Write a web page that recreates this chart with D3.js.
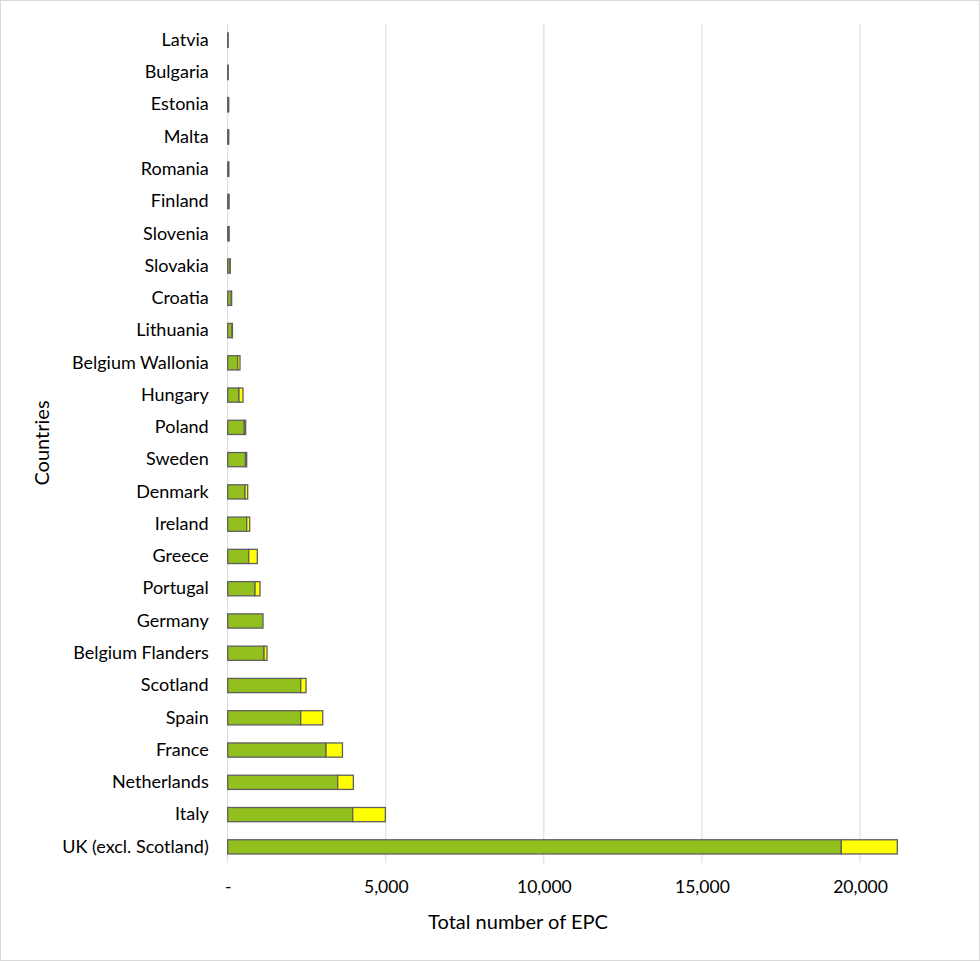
<!DOCTYPE html>
<html><head><meta charset="utf-8">
<script src="https://cdn.jsdelivr.net/npm/d3@7"></script>
<style>
html,body{margin:0;padding:0;background:#fff;}
svg text{font-family:Lato,"Open Sans",sans-serif;fill:#000;}
</style></head>
<body>
<svg id="chart" width="980" height="961"></svg>
<script>
const countries = ["Latvia","Bulgaria","Estonia","Malta","Romania","Finland","Slovenia","Slovakia","Croatia","Lithuania","Belgium Wallonia","Hungary","Poland","Sweden","Denmark","Ireland","Greece","Portugal","Germany","Belgium Flanders","Scotland","Spain","France","Netherlands","Italy","UK (excl. Scotland)"];
const greenValues = [8,10,25,25,28,35,38,70,115,140,316,357,525,563,547,601,664,864,1117,1149,2310,2310,3110,3480,3955,19408];
const yellowValues = [2,2,5,5,5,5,5,8,10,10,73,127,44,38,85,95,273,158,0,95,168,696,520,495,1032,1772];
const xTicks = [0,5000,10000,15000,20000];
const xTickLabels = ["-","5,000","10,000","15,000","20,000"];

const svg = d3.select("#chart");
const W = 980, H = 961;
svg.append("rect").attr("x",0.5).attr("y",0.5).attr("width",W-1).attr("height",H-1)
  .attr("fill","#fff").attr("stroke","#d9d9d9");

const x = d3.scaleLinear().domain([0,20000]).range([227.7,860]);
const y = d3.scaleBand().domain(countries).range([24,863]).paddingInner(0.56).paddingOuter(0.28);

// gridlines
svg.append("g").selectAll("line").data(xTicks).join("line")
  .attr("x1",d=>x(d)).attr("x2",d=>x(d)).attr("y1",24).attr("y2",863)
  .attr("stroke","#d9d9d9").attr("stroke-width",1);

const data = countries.map((c,i)=>({c, g:greenValues[i], yv:yellowValues[i]}));
const bars = svg.append("g");
bars.selectAll("rect.g").data(data).join("rect").attr("class","g")
  .attr("x",x(0)).attr("y",d=>y(d.c)).attr("width",d=>x(d.g)-x(0)).attr("height",y.bandwidth())
  .attr("fill","#92c01f").attr("stroke","#5f5f5f").attr("stroke-width",1.3);
bars.selectAll("rect.y").data(data.filter(d=>d.yv>0)).join("rect").attr("class","y")
  .attr("x",d=>x(d.g)).attr("y",d=>y(d.c)).attr("width",d=>x(d.g+d.yv)-x(d.g)).attr("height",y.bandwidth())
  .attr("fill","#ffff00").attr("stroke","#5f5f5f").attr("stroke-width",1.3);

// y axis labels
const yAxis = d3.axisLeft(y).tickSize(0).tickPadding(19);
const ya = svg.append("g").attr("transform",`translate(${x(0)},0)`).call(yAxis);
ya.select(".domain").remove();
ya.selectAll("text").style("font-size","18px").style("font-family","Lato, sans-serif").attr("fill","#000");

// x axis labels
const xAxis = d3.axisBottom(x).tickValues(xTicks).tickFormat((d,i)=>xTickLabels[i]).tickSize(0).tickPadding(18);
const xa = svg.append("g").attr("transform",`translate(0,863)`).call(xAxis);
xa.select(".domain").remove();
xa.selectAll("text").style("font-size","17.5px").style("font-family","Lato, sans-serif").attr("fill","#000");

svg.append("text").attr("x",518).attr("y",929).attr("text-anchor","middle")
  .style("font-size","20px").text("Total number of EPC");
svg.append("text").attr("transform","translate(49,443) rotate(-90)").attr("text-anchor","middle")
  .style("font-size","20px").text("Countries");
</script>
</body></html>
